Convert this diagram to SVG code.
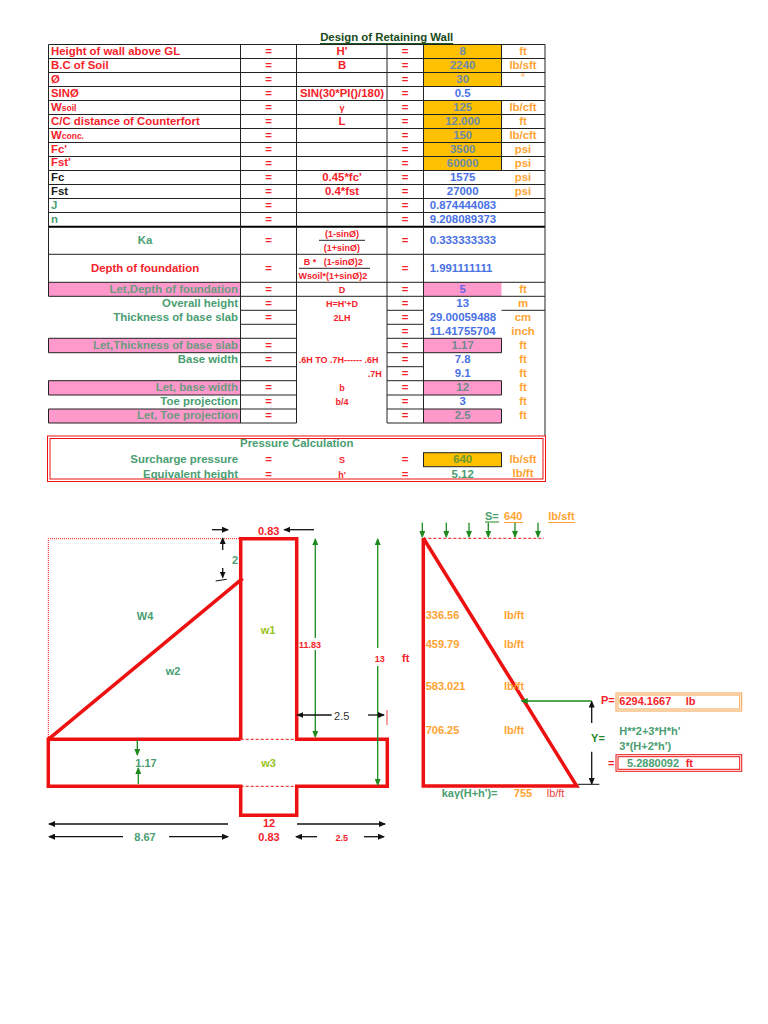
<svg xmlns="http://www.w3.org/2000/svg" width="768" height="1024" viewBox="0 0 768 1024">
<style>
text{font-family:"Liberation Sans",Arial,sans-serif;font-weight:bold;font-size:11.4px}
#wall-section text,#load-diagram text{font-size:11px}
#wall-section text.s{font-size:9px}
.r{fill:#f5222a}.k{fill:#1c1c1c}.g{fill:#4a9e72}.b{fill:#4a72e4}.o{fill:#ffa333}.y{fill:#99c21a}
.gb{fill:#6b8aa8}.pg{fill:#6d9a80}
.c{text-anchor:middle}.e{text-anchor:end}
text.s{font-size:9px}
.eq{fill:#f5222a;text-anchor:middle}
.grid line,.grid rect{stroke:#222;stroke-width:1;fill:none}
.gold{fill:#ffc000}.pink{fill:#ff99cc}
.wall{fill:none;stroke:#ee1111;stroke-width:3.5}
.thin{fill:none;stroke:#ee1111;stroke-width:1}
.ak{stroke:#111;stroke-width:1.3;fill:none;marker-end:url(#mk)}
.ag{stroke:#1d8a1d;stroke-width:1.3;fill:none;marker-end:url(#mg)}
</style>
<defs>
<marker id="mk" markerWidth="7" markerHeight="6" refX="6" refY="3" orient="auto" markerUnits="userSpaceOnUse"><path d="M0 0L7 3L0 6Z" fill="#111"/></marker>
<marker id="mg" markerWidth="7" markerHeight="6" refX="6" refY="3" orient="auto" markerUnits="userSpaceOnUse"><path d="M0 0L7 3L0 6Z" fill="#1d8a1d"/></marker>
</defs>
<rect width="768" height="1024" fill="#fff"/>

<g id="fills">
<rect class="gold" x="423.5" y="44.5" width="78" height="42"/>
<rect class="gold" x="423.5" y="100.5" width="78" height="70"/>
<rect class="gold" x="423.5" y="452.7" width="78" height="14"/>
<rect class="pink" x="48.5" y="282.3" width="192" height="14"/>
<rect class="pink" x="423.5" y="282.3" width="78" height="14"/>
<rect class="pink" x="48.5" y="338.3" width="192" height="14.4"/>
<rect class="pink" x="423.5" y="338.3" width="78" height="14.4"/>
<rect class="pink" x="48.5" y="380.7" width="192" height="14.3"/>
<rect class="pink" x="423.5" y="380.7" width="78" height="14.3"/>
<rect class="pink" x="48.5" y="409" width="192" height="14"/>
<rect class="pink" x="423.5" y="409" width="78" height="14"/>
</g>

<g id="grid" class="grid">
<line x1="48.5" y1="44.5" x2="545" y2="44.5"/><line x1="48.5" y1="58.5" x2="545" y2="58.5"/>
<line x1="48.5" y1="72.5" x2="545" y2="72.5"/><line x1="48.5" y1="86.5" x2="545" y2="86.5"/>
<line x1="48.5" y1="100.5" x2="545" y2="100.5"/><line x1="48.5" y1="114.5" x2="545" y2="114.5"/>
<line x1="48.5" y1="128.5" x2="545" y2="128.5"/><line x1="48.5" y1="142.5" x2="545" y2="142.5"/>
<line x1="48.5" y1="156.5" x2="545" y2="156.5"/><line x1="48.5" y1="170.5" x2="545" y2="170.5"/>
<line x1="48.5" y1="184.5" x2="545" y2="184.5"/><line x1="48.5" y1="198.5" x2="545" y2="198.5"/>
<line x1="48.5" y1="212.5" x2="545" y2="212.5"/>
<line x1="48.5" y1="226.7" x2="545" y2="226.7" style="stroke-width:2;stroke:#000"/>
<line x1="48.5" y1="254.3" x2="545" y2="254.3"/><line x1="48.5" y1="282.3" x2="545" y2="282.3"/>
<line x1="48.5" y1="296.3" x2="545" y2="296.3"/>
<line x1="48.5" y1="44.5" x2="48.5" y2="296.3"/>
<line x1="240.5" y1="44.5" x2="240.5" y2="423"/>
<line x1="296.5" y1="44.5" x2="296.5" y2="423"/>
<line x1="387" y1="44.5" x2="387" y2="423"/>
<line x1="423.5" y1="44.5" x2="423.5" y2="423"/>
<line x1="545" y1="44.5" x2="545" y2="436"/>
<line x1="501.5" y1="44.5" x2="501.5" y2="86.5"/>
<line x1="501.5" y1="100.5" x2="501.5" y2="170.5"/>
<line x1="501.5" y1="338.3" x2="501.5" y2="352.7"/>
<line x1="501.5" y1="380.7" x2="501.5" y2="395"/>
<line x1="501.5" y1="409" x2="501.5" y2="423"/>
<line x1="501.5" y1="310.3" x2="545" y2="310.3"/>
<line x1="240.5" y1="310.3" x2="296.5" y2="310.3"/><line x1="387" y1="310.3" x2="423.5" y2="310.3"/>
<line x1="240.5" y1="324.3" x2="296.5" y2="324.3"/><line x1="387" y1="324.3" x2="423.5" y2="324.3"/>
<line x1="48.5" y1="338.3" x2="296.5" y2="338.3"/><line x1="387" y1="338.3" x2="501.5" y2="338.3"/>
<line x1="48.5" y1="352.7" x2="296.5" y2="352.7"/><line x1="387" y1="352.7" x2="501.5" y2="352.7"/>
<line x1="240.5" y1="366.7" x2="296.5" y2="366.7"/><line x1="387" y1="366.7" x2="423.5" y2="366.7"/>
<line x1="48.5" y1="380.7" x2="296.5" y2="380.7"/><line x1="387" y1="380.7" x2="501.5" y2="380.7"/>
<line x1="48.5" y1="395" x2="296.5" y2="395"/><line x1="387" y1="395" x2="501.5" y2="395"/>
<line x1="48.5" y1="409" x2="296.5" y2="409"/><line x1="387" y1="409" x2="501.5" y2="409"/>
<line x1="48.5" y1="423" x2="296.5" y2="423"/><line x1="387" y1="423" x2="501.5" y2="423"/>
<line x1="48.5" y1="338.3" x2="48.5" y2="352.7"/><line x1="48.5" y1="380.7" x2="48.5" y2="395"/><line x1="48.5" y1="409" x2="48.5" y2="423"/>
<rect x="423.5" y="452.7" width="78" height="14"/>
</g>

<g id="title">
<text class="c" x="386.7" y="41" fill="#1a4a1a">Design of Retaining Wall</text>
<line x1="320" y1="43.5" x2="453" y2="43.5" stroke="#1a5a1a"/>
</g>

<g id="labels">
<text class="r" x="51" y="55">Height of wall above GL</text>
<text class="r" x="51" y="69">B.C of Soil</text>
<text class="r" x="51" y="83">Ø</text>
<text class="r" x="51" y="97">SINØ</text>
<text class="r" x="51" y="111">W<tspan font-size="8.5">soil</tspan></text>
<text class="r" x="51" y="125">C/C distance of Counterfort</text>
<text class="r" x="51" y="139">W<tspan font-size="8.5">conc.</tspan></text>
<text class="r" x="51" y="153">Fc'</text>
<text class="r" x="51" y="166">Fst'</text>
<text class="k" x="51" y="181">Fc</text>
<text class="k" x="51" y="195">Fst</text>
<text class="g" x="51" y="209">J</text>
<text class="g" x="51" y="223">n</text>
<text class="g c" x="145" y="243.5">Ka</text>
<text class="r c" x="145" y="272">Depth of foundation</text>
<text class="pg e" x="238" y="292.7">Let,Depth of foundation</text>
<text class="g e" x="238" y="306.7">Overall height</text>
<text class="g e" x="238" y="321">Thickness of base slab</text>
<text class="pg e" x="238" y="349">Let,Thickness of base slab</text>
<text class="g e" x="238" y="363">Base width</text>
<text class="pg e" x="238" y="391">Let, base width</text>
<text class="g e" x="238" y="405">Toe projection</text>
<text class="pg e" x="238" y="419">Let, Toe projection</text>
</g>

<g id="equals1">
<text class="eq" x="268.7" y="55">=</text><text class="eq" x="268.7" y="69">=</text><text class="eq" x="268.7" y="83">=</text>
<text class="eq" x="268.7" y="97">=</text><text class="eq" x="268.7" y="111">=</text><text class="eq" x="268.7" y="125">=</text>
<text class="eq" x="268.7" y="139">=</text><text class="eq" x="268.7" y="153">=</text><text class="eq" x="268.7" y="167">=</text>
<text class="eq" x="268.7" y="181">=</text><text class="eq" x="268.7" y="195">=</text><text class="eq" x="268.7" y="209">=</text>
<text class="eq" x="268.7" y="223">=</text><text class="eq" x="268.7" y="244">=</text><text class="eq" x="268.7" y="272">=</text>
<text class="eq" x="268.7" y="293">=</text><text class="eq" x="268.7" y="307">=</text><text class="eq" x="268.7" y="321">=</text>
<text class="eq" x="268.7" y="349">=</text><text class="eq" x="268.7" y="363">=</text><text class="eq" x="268.7" y="391">=</text>
<text class="eq" x="268.7" y="405">=</text><text class="eq" x="268.7" y="419">=</text>
<text class="eq" x="268.7" y="463">=</text><text class="eq" x="268.7" y="478">=</text>
</g>
<g id="equals2">
<text class="eq" x="405" y="55">=</text><text class="eq" x="405" y="69">=</text><text class="eq" x="405" y="83">=</text>
<text class="eq" x="405" y="97">=</text><text class="eq" x="405" y="111">=</text><text class="eq" x="405" y="125">=</text>
<text class="eq" x="405" y="139">=</text><text class="eq" x="405" y="153">=</text><text class="eq" x="405" y="167">=</text>
<text class="eq" x="405" y="181">=</text><text class="eq" x="405" y="195">=</text><text class="eq" x="405" y="209">=</text>
<text class="eq" x="405" y="223">=</text><text class="eq" x="405" y="244">=</text><text class="eq" x="405" y="272">=</text>
<text class="eq" x="405" y="293">=</text><text class="eq" x="405" y="307">=</text><text class="eq" x="405" y="321">=</text>
<text class="eq" x="405" y="335">=</text><text class="eq" x="405" y="349">=</text><text class="eq" x="405" y="363">=</text>
<text class="eq" x="405" y="377">=</text><text class="eq" x="405" y="391">=</text>
<text class="eq" x="405" y="405">=</text><text class="eq" x="405" y="419">=</text>
<text class="eq" x="405" y="463">=</text><text class="eq" x="405" y="478">=</text>
</g>

<g id="formulas">
<text class="r c" x="342" y="55">H'</text>
<text class="r c" x="342" y="69">B</text>
<text class="r c" x="342" y="97">SIN(30*PI()/180)</text>
<text class="r c s" x="342" y="111">γ</text>
<text class="r c" x="342" y="125">L</text>
<text class="r c" x="342" y="181">0.45*fc'</text>
<text class="r c" x="342" y="195">0.4*fst</text>
<text class="r c s" x="342" y="237">(1-sinØ)</text>
<line x1="319" y1="240.3" x2="365" y2="240.3" stroke="#222"/>
<text class="r c s" x="342" y="251.3">(1+sinØ)</text>
<text class="r c s" x="333.3" y="265" xml:space="preserve">B *   (1-sinØ)2</text>
<line x1="299" y1="268.3" x2="370" y2="268.3" stroke="#222"/>
<text class="r c s" x="333" y="279.3">Wsoil*(1+sinØ)2</text>
<text class="r c s" x="342" y="293">D</text>
<text class="r c s" x="342" y="307">H=H'+D</text>
<text class="r c s" x="342" y="321">2LH</text>
<text class="r s" x="298.7" y="363">.6H TO .7H------ .6H</text>
<text class="r e s" x="381.7" y="377">.7H</text>
<text class="r c s" x="342" y="391">b</text>
<text class="r c s" x="342" y="405">b/4</text>
<text class="r c s" x="342" y="463">S</text>
<text class="r c s" x="342" y="478">h'</text>
</g>

<g id="values">
<text class="gb c" x="462.7" y="55">8</text>
<text class="gb c" x="462.7" y="69">2240</text>
<text class="gb c" x="462.7" y="83">30</text>
<text class="b c" x="462.7" y="97">0.5</text>
<text class="gb c" x="462.7" y="111">125</text>
<text class="gb c" x="462.7" y="125">12.000</text>
<text class="gb c" x="462.7" y="139">150</text>
<text class="gb c" x="462.7" y="153">3500</text>
<text class="gb c" x="462.7" y="167">60000</text>
<text class="b c" x="462.7" y="181">1575</text>
<text class="b c" x="462.7" y="195">27000</text>
<text class="b" x="429.7" y="209">0.874444083</text>
<text class="b" x="429.7" y="223">9.208089373</text>
<text class="b" x="429.7" y="243.5">0.333333333</text>
<text class="b" x="429.7" y="272">1.991111111</text>
<text class="c" x="462.7" y="293" fill="#6a66e0">5</text>
<text class="b c" x="462.7" y="307">13</text>
<text class="b" x="429.7" y="321">29.00059488</text>
<text class="b" x="429.7" y="335">11.41755704</text>
<text class="c" x="462.7" y="349" fill="#6f8a8a">1.17</text>
<text class="b c" x="462.7" y="363">7.8</text>
<text class="b c" x="462.7" y="377">9.1</text>
<text class="c" x="462.7" y="391" fill="#6f8a8a">12</text>
<text class="b c" x="462.7" y="405">3</text>
<text class="c" x="462.7" y="419" fill="#6f8a8a">2.5</text>
<text class="c" x="462.7" y="463" fill="#6a9a30">640</text>
<text class="g c" x="462.7" y="478">5.12</text>
</g>

<g id="units">
<text class="o c" x="523" y="55">ft</text>
<text class="o c" x="523" y="69">lb/sft</text>
<text class="o c s" x="523" y="80">º</text>
<text class="o c" x="523" y="111">lb/cft</text>
<text class="o c" x="523" y="125">ft</text>
<text class="o c" x="523" y="139">lb/cft</text>
<text class="o c" x="523" y="153">psi</text>
<text class="o c" x="523" y="167">psi</text>
<text class="o c" x="523" y="181">psi</text>
<text class="o c" x="523" y="195">psi</text>
<text class="o c" x="523" y="293">ft</text>
<text class="o c" x="523" y="307">m</text>
<text class="o c" x="523" y="321">cm</text>
<text class="o c" x="523" y="335">inch</text>
<text class="o c" x="523" y="349">ft</text>
<text class="o c" x="523" y="363">ft</text>
<text class="o c" x="523" y="377">ft</text>
<text class="o c" x="523" y="391">ft</text>
<text class="o c" x="523" y="405">ft</text>
<text class="o c" x="523" y="419">ft</text>
<text class="o c" x="523" y="463">lb/sft</text>
<text class="o c" x="523" y="477">lb/ft</text>
</g>

<g id="pressure">
<rect class="thin" x="47.5" y="436" width="498" height="45.5"/>
<rect class="thin" x="50" y="438.5" width="493" height="40.5"/>
<text class="g c" x="296.7" y="447.3">Pressure Calculation</text>
<text class="g e" x="238" y="462.7">Surcharge pressure</text>
<text class="g e" x="238" y="477.7">Equivalent height</text>
</g>

<g id="wall-section">
<path class="thin" d="M48.3 739V538.7H240" stroke-dasharray="1 1"/>
<path class="wall" d="M240.7 739V538.7H296.7V739.3H387.3V786.3H296.7V815.3H240.7V786.3H48.3V739.3H240.7"/>
<path class="wall" d="M48.3 739.3L242.7 578.3"/>
<path class="thin" d="M240.7 739.3H296.7M240.7 786.3H296.7" stroke-dasharray="3 2"/>
<text class="g c" x="145" y="620">W4</text>
<text class="g c" x="173" y="675">w2</text>
<text class="y c" x="268" y="634">w1</text>
<text class="y c" x="268.5" y="767">w3</text>
<text class="g c" x="146" y="767">1.17</text>
<text class="g c" x="235" y="564">2</text>
<text class="r c" x="268.7" y="534.6">0.83</text>
<text class="r c s" x="310" y="648">11.83</text>
<text class="r c s" x="379.7" y="662">13</text>
<text class="r" x="402" y="661.7">ft</text>
<text class="c" x="341.7" y="720" fill="#333" style="font-weight:normal">2.5</text>
<text class="r c" x="269" y="827">12</text>
<text class="g c" x="145" y="841">8.67</text>
<text class="r c" x="269" y="841">0.83</text>
<text class="r c s" x="341.7" y="841">2.5</text>
</g>

<g id="load-diagram">
<path class="wall" d="M423.3 538V786H576.7L423.3 538"/>
<path class="thin" d="M423.3 538.3H544" stroke-dasharray="3 2"/>
<text class="g" x="485" y="520">S=</text>
<line x1="485" y1="522" x2="499" y2="522" stroke="#1d8a1d"/>
<text class="o c" x="513.3" y="520">640</text>
<line x1="504" y1="522.5" x2="523" y2="522.5" stroke="#ffa333"/>
<text class="o" x="548.3" y="520">lb/sft</text>
<line x1="548.3" y1="522.5" x2="575" y2="522.5" stroke="#ffa333"/>
<text class="o" x="425.7" y="619.3">336.56</text><text class="o" x="504" y="619.3">lb/ft</text>
<text class="o" x="425.7" y="647.7">459.79</text><text class="o" x="504" y="647.7">lb/ft</text>
<text class="o" x="425.7" y="689.7">583.021</text><text class="o" x="504" y="689.7">lb/ft</text>
<text class="o" x="425.7" y="734.3">706.25</text><text class="o" x="504" y="734.3">lb/ft</text>
<text class="g" x="441.7" y="797">kaγ(H+h')=</text>
<text class="o c" x="523" y="797">755</text>
<text x="546.7" y="797" fill="#e84444" style="font-weight:normal">lb/ft</text>
<text class="r" x="601" y="704.3">P=</text>
<rect x="616" y="693" width="125.7" height="18" fill="none" stroke="#f5a04a"/>
<rect x="618" y="695" width="121.7" height="14" fill="none" stroke="#f5a04a"/>
<text class="r" x="619.3" y="705">6294.1667</text>
<text class="r" x="685.7" y="705">lb</text>
<text x="598" y="742" class="c" fill="#1f8a2a">Y=</text>
<text class="g" x="619.3" y="735.3">H**2+3*H*h'</text>
<text class="g" x="619.3" y="750">3*(H+2*h')</text>
<text class="r" x="608" y="767">=</text>
<rect x="616" y="754.7" width="125.7" height="16.6" fill="none" stroke="#ee1111"/>
<rect x="618" y="756.7" width="121.7" height="12.6" fill="none" stroke="#ee1111"/>
<text class="g" x="627" y="767">5.2880092</text>
<text class="r" x="685.7" y="767">ft</text>
</g>

<g id="connectors">
<line class="ak" x1="212" y1="529.7" x2="228" y2="529.7"/>
<line class="ak" x1="314" y1="529.7" x2="284.3" y2="529.7"/>
<line class="ak" x1="222.7" y1="550" x2="222.7" y2="538"/>
<line class="ak" x1="222.7" y1="568" x2="222.7" y2="577.5"/>
<line x1="215.7" y1="581" x2="226.7" y2="579.3" stroke="#111"/>
<path class="ag" d="M315.3 638V539"/>
<path class="ag" d="M315.3 650V737"/>
<path class="ag" d="M377.7 648V539"/>
<path class="ag" d="M377.7 666V785"/>
<line class="ak" x1="331.7" y1="715" x2="297.3" y2="715"/>
<line class="ak" x1="368" y1="715" x2="384" y2="715"/>
<line x1="387" y1="710" x2="387" y2="725" stroke="#ee4444"/>
<line class="ag" x1="137.3" y1="740" x2="137.3" y2="755"/>
<line class="ag" x1="138.3" y1="784" x2="138.3" y2="768"/>
<line class="ak" x1="228" y1="824" x2="49" y2="824"/>
<line class="ak" x1="297" y1="824" x2="385" y2="824"/>
<line class="ak" x1="123" y1="836.7" x2="49" y2="836.7"/>
<line class="ak" x1="169" y1="836.7" x2="228" y2="836.7"/>
<line class="ak" x1="317" y1="836.7" x2="296" y2="836.7"/>
<line class="ak" x1="364" y1="836.7" x2="384" y2="836.7"/>
<line class="ag" x1="422.3" y1="522.7" x2="422.3" y2="537"/>
<line class="ag" x1="446.3" y1="522.7" x2="446.3" y2="537"/>
<line class="ag" x1="469" y1="522.7" x2="469" y2="537"/>
<line class="ag" x1="488.3" y1="522.7" x2="488.3" y2="537"/>
<line class="ag" x1="515" y1="522.7" x2="515" y2="537"/>
<line class="ag" x1="538" y1="522.7" x2="538" y2="537"/>
<line class="ag" x1="591.7" y1="701" x2="521.7" y2="701"/>
<line class="ak" x1="591.7" y1="723" x2="591.7" y2="701.5"/>
<line class="ak" x1="591.7" y1="751.7" x2="591.7" y2="784"/>
<line x1="578" y1="784.3" x2="599.3" y2="784.3" stroke="#111"/>
</g>
</svg>
